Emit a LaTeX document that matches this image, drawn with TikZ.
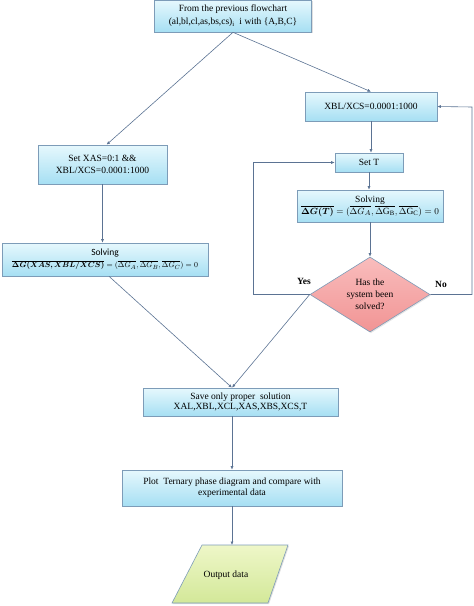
\documentclass[tikz,border=0pt]{standalone}
\usepackage{fontspec}
\setmainfont{Liberation Serif}
\newfontfamily\calib{Carlito}
\usepackage{amsmath,bm,graphicx}
\usetikzlibrary{arrows.meta,shadows,shapes.geometric}
\definecolor{boxline}{HTML}{7D9CB8}
\definecolor{connline}{HTML}{5B7393}
\definecolor{cyantop}{HTML}{E6F8FD}
\definecolor{cyanbot}{HTML}{A6DFF3}
\definecolor{pinktop}{HTML}{F9BDBD}
\definecolor{pinkbot}{HTML}{F19494}
\definecolor{greentop}{HTML}{EEF7C8}
\definecolor{greenbot}{HTML}{D3E899}
\begin{document}
\begin{tikzpicture}[x=1pt,y=-1pt,
  font=\fontsize{9.5}{11.5}\selectfont,
  box/.style={draw=boxline, line width=0.6pt, top color=cyantop, bottom color=cyanbot,
    align=center, inner sep=1pt,
    drop shadow={opacity=0.25, shadow xshift=1pt, shadow yshift=-1.2pt}},
  conn/.style={draw=connline, line width=0.6pt, -{Latex[length=3.5pt,width=3pt]}},
  lab/.style={font=\fontsize{9.5}{11.5}\selectfont\bfseries}]
\useasboundingbox (0,0) rectangle (474,606);

\node[box, minimum width=157pt, minimum height=32pt, font=\fontsize{9.5}{13}\selectfont] (top) at (233,16)
  {From the previous flowchart\\(al,bl,cl,as,bs,cs)\textsubscript{i}\ \ i with \{A,B,C\}};
\node[box, minimum width=129pt, minimum height=39pt] (setx) at (102.5,164.5)
  {Set XAS=0:1 \&\&\\XBL/XCS=0.0001:1000};
\node[box, minimum width=206pt, minimum height=33pt, font=\fontsize{9.5}{11}\selectfont] (solvl) at (105,259.5)
  {{\calib Solving}\\[1pt]\resizebox{186pt}{!}{$\overline{\boldsymbol{\Delta G(XAS,XBL/XCS)}}=(\overline{\Delta G_A},\overline{\Delta G_B},\overline{\Delta G_C})=0$}};
\node[box, minimum width=132pt, minimum height=29pt] (xbl) at (371,106.5) {XBL/XCS=0.0001:1000};
\node[box, minimum width=68pt, minimum height=19pt] (sett) at (369,162.5) {Set T};
\node[box, minimum width=146pt, minimum height=32pt, font=\fontsize{9.5}{10.5}\selectfont] (solvr) at (370,206)
  {Solving\\$\overline{\boldsymbol{\Delta G(T)}}=(\overline{\Delta G_A},\overline{\Delta \mathrm{G}_\mathrm{B}},\overline{\Delta \mathrm{G}_\mathrm{C}})=0$};
\node[diamond, draw=boxline, line width=0.6pt, top color=pinktop, bottom color=pinkbot,
  aspect=1.6, inner sep=0pt, minimum width=120pt, minimum height=75pt, align=center,
  font=\fontsize{9.5}{12}\selectfont,
  drop shadow={opacity=0.2, shadow xshift=1pt, shadow yshift=-1.2pt}] (dia) at (370,294.5)
  {Has the\\system been\\solved?};
\node[box, minimum width=195pt, minimum height=28pt, font=\fontsize{9.5}{10.5}\selectfont] (save) at (240.5,402)
  {Save only proper\ \ solution\\XAL,XBL,XCL,XAS,XBS,XCS,T};
\node[box, minimum width=220pt, minimum height=36pt, font=\fontsize{9.5}{11}\selectfont] (plot) at (232,488)
  {Plot\ \ Ternary phase diagram and compare with\\experimental data};

% output parallelogram
\path[draw=boxline, line width=0.6pt, top color=greentop, bottom color=greenbot,
  drop shadow={opacity=0.25, shadow xshift=1pt, shadow yshift=-1.2pt}]
  (202,545) -- (288,545) -- (268,603) -- (172,603) -- cycle;
\node (out) at (226,575) {Output data};
\coordinate (outtop) at (232,545);

% connectors
\draw[conn] (top.south) -- ([xshift=4pt]setx.north);
\draw[conn] (top.south) -- (xbl.north);
\draw[conn] (setx.south) -- (setx.south |- solvl.north);
\draw[conn] (xbl.south) -- (xbl.south |- sett.north);
\draw[conn] (sett.south) -- (sett.south |- solvr.north);
\draw[conn] (solvr.south) -- (solvr.south |- dia.north);
\coordinate (savein) at (plot.north |- save.north);
\draw[conn] ([xshift=4pt]solvl.south) -- (savein);
\draw[conn] (dia.west) -- (savein);
\coordinate (lc) at (253,162.5);
\draw[conn] (dia.west) -| (lc) -- (sett.west);
\coordinate (rc) at (472,107);
\draw[conn] (dia.east) -| (rc) -- (xbl.east);
\draw[conn] (save.south -| plot.north) -- (plot.north);
\draw[conn] (plot.south) -- (outtop);

\node[lab] (yes) at (304,281) {Yes};
\node[lab] (no) at (441,284) {No};
\end{tikzpicture}
\end{document}
